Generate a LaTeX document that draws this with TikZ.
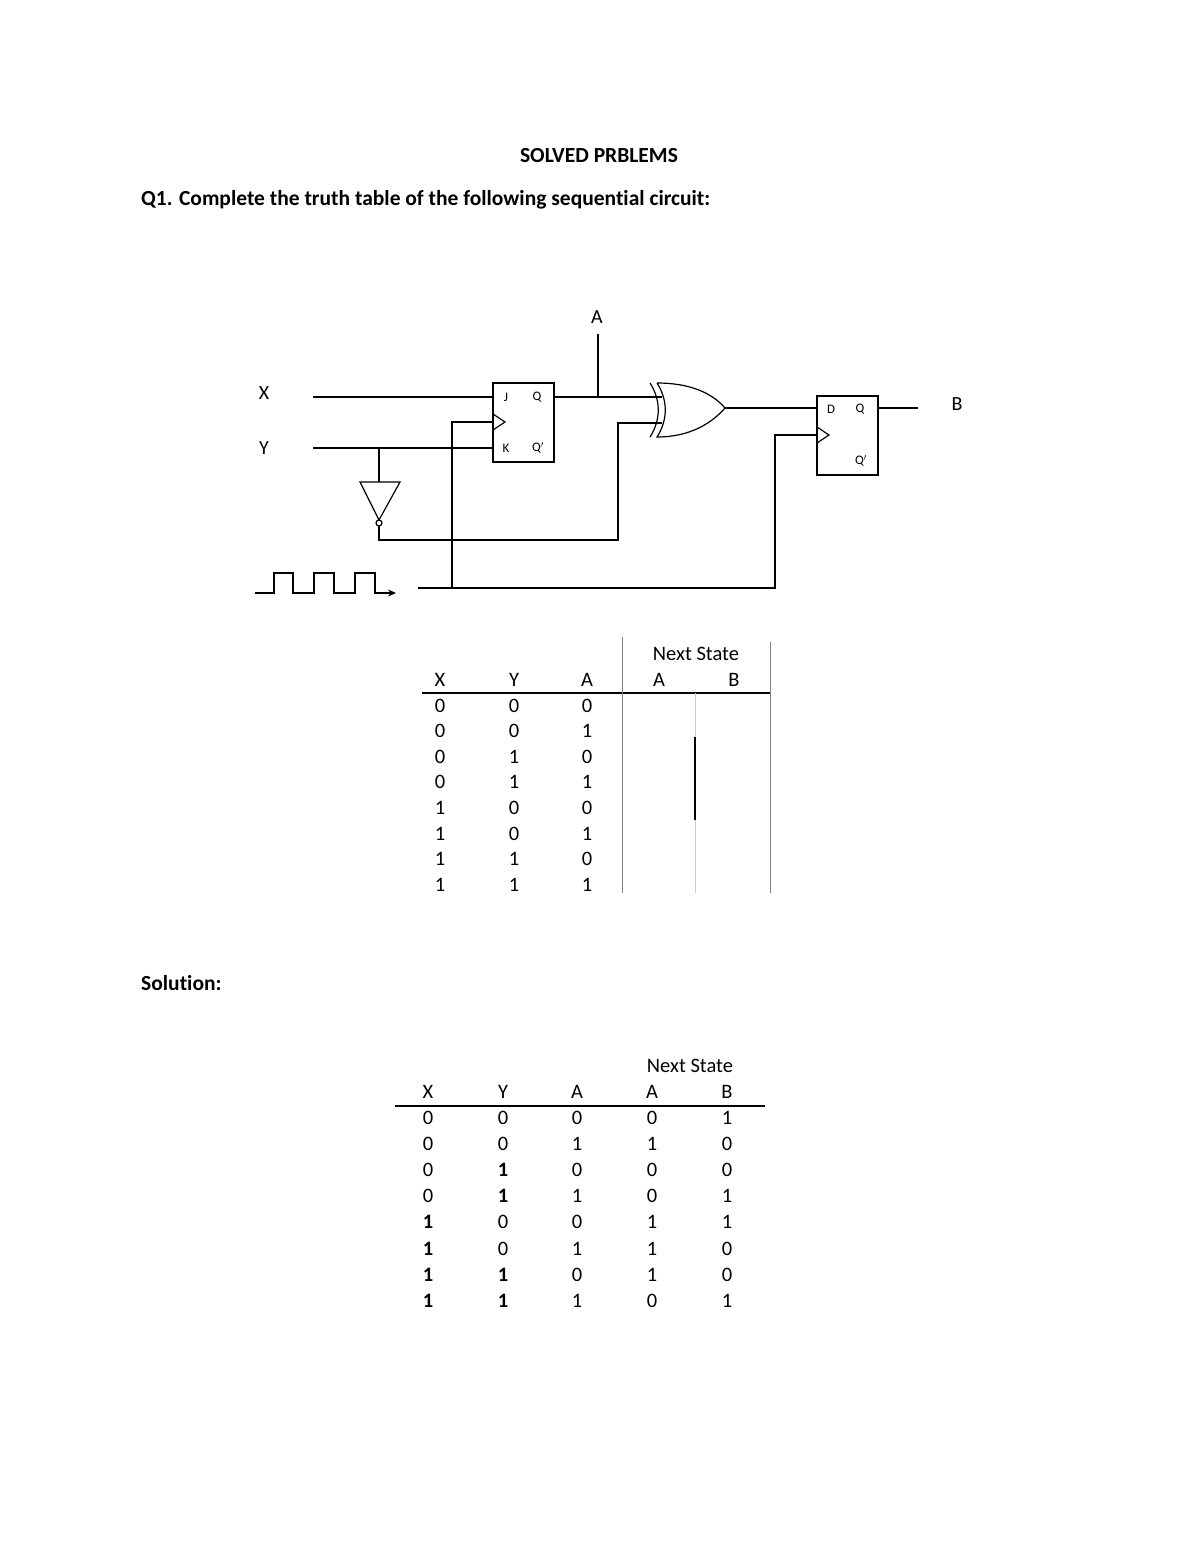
\documentclass[tikz,border=0pt]{standalone}
\usepackage{fontspec}
\setmainfont{Carlito}[Ligatures=NoCommon]
\usetikzlibrary{arrows.meta}
\begin{document}
\begin{tikzpicture}[x=1pt,y=-1pt,
  wire/.style={line width=1.6pt},
  thinw/.style={line width=1.2pt},
  lbl/.style={font=\fontsize{20}{22}\selectfont},
  pin/.style={font=\fontsize{13}{14}\selectfont, inner sep=0pt},
  cell/.style={font=\fontsize{20.5}{22}\selectfont, inner sep=0pt, text height=10pt, text depth=0pt},
  txt/.style={font=\bfseries\fontsize{21.5}{24}\selectfont, inner sep=0pt}]
\useasboundingbox[fill=white] (0,0) rectangle (1200,1553);
% texts
\node[txt] (title) at (599,156) {SOLVED PRBLEMS};
\node[txt,anchor=west] (q1) at (141,200) {Q1. Complete the truth table of the following sequential circuit:};
\node[txt,anchor=west] (sol) at (141,983) {Solution:};
% JK flip flop
\node[draw,wire,minimum width=61pt,minimum height=79pt,inner sep=0pt] (jk) at (523.5,422.5) {};
\node[pin] (jj) at (506,397) {J};
\node[pin] (jq) at (537,397) {Q};
\node[pin] (jk1) at (506,448) {K};
\node[pin] (jqn) at (538,448) {Q$'$};
\draw[thinw] (493,414) -- (505,422) -- (493,430);
% D flip flop
\node[draw,wire,minimum width=61pt,minimum height=79pt,inner sep=0pt] (dff) at (847.5,435.5) {};
\node[pin] (dd) at (831,409) {D};
\node[pin] (dq) at (860,409) {Q};
\node[pin] (dqn) at (861,461) {Q$'$};
\draw[thinw] (817,427) -- (829,435) -- (817,443);
% labels
\node[lbl] (lx) at (264,393) {X};
\node[lbl] (ly) at (264,448) {Y};
\node[lbl] (la) at (597,317) {A};
\node[lbl] (lb) at (957,404) {B};
% XOR gate
\coordinate (xo) at (725,408);
\draw[thinw] (657,383) .. controls (690,383) and (712,393) .. (xo) .. controls (712,423) and (690,437) .. (657,437) .. controls (668,420) and (668,400) .. (657,383);
\draw[thinw] (650,383) .. controls (661,400) and (661,420) .. (650,437);
% inputs
\coordinate (xs) at (313,397);
\coordinate (ys) at (313,448);
\coordinate (yb) at (379,448);
\draw[wire] (xs) -- (493,397);
\draw[wire] (ys) -- (493,448);
\draw[wire] (yb) -- (379,482);
% inverter
\draw[thinw] (360,482) -- (400,482) -- (379,520) -- cycle;
\draw[thinw] (379,523) circle (3pt);
\draw[wire] (379,526) -- (379,540) -- (618,540) -- (618,423) -- (662,423);
% Q to XOR, A tap
\draw[wire] (554,397) -- (662,397);
\coordinate (at) at (598,334);
\draw[thinw] (598,397) -- (at);
% XOR out
\draw[thinw] (xo) -- (817,408);
\draw[thinw] (878,408) -- (918,408);
% clock
\draw[wire] (418,588) -- (775,588) -- (775,435) -- (817,435);
\draw[wire] (452,588) -- (452,422) -- (493,422);
\draw[thinw,-{Stealth[length=8pt,width=7pt]}] (255,593) -- (274,593) -- (274,573) -- (293,573) -- (293,593) -- (314,593) -- (314,573) -- (334,573) -- (334,593) -- (355,593) -- (355,573) -- (375,573) -- (375,593) -- (396,593);
% table 1
\node[cell] (ns1) at (696,655) {Next State};
\foreach \t [count=\i] in {X,Y,A,A,B}{
  \pgfmathsetmacro{\xx}{{0,440,514,587,659,734}[\i]}
  \node[cell] (ha\i) at (\xx,681) {\t};}
\draw[thinw] (422,693) -- (770,693);
\draw[line width=0.8pt,gray] (622,637) -- (622,893);
\draw[line width=0.8pt,gray] (770,642) -- (770,893);
\draw[line width=0.4pt,gray!40] (695,693) -- (695,893);
\draw[line width=1.2pt] (695,737) -- (695,820);
\foreach \x/\y/\a [count=\r from 0] in {0/0/0,0/0/1,0/1/0,0/1/1,1/0/0,1/0/1,1/1/0,1/1/1}{
  \node[cell] (ta\r x) at (440,707+25.6*\r) {\x};
  \node[cell] (ta\r y) at (514,707+25.6*\r) {\y};
  \node[cell] (ta\r a) at (587,707+25.6*\r) {\a};}
% table 2
\node[cell] (ns2) at (690,1067) {Next State};
\foreach \t [count=\i] in {X,Y,A,A,B}{
  \pgfmathsetmacro{\xx}{{0,428,503,577,652,727}[\i]}
  \node[cell] (hb\i) at (\xx,1093) {\t};}
\draw[thinw] (395,1106) -- (765,1106);
\foreach \x/\y/\a/\na/\nb [count=\r from 0] in {0/0/0/0/1,0/0/1/1/0,0/1/0/0/0,0/1/1/0/1,1/0/0/1/1,1/0/1/1/0,1/1/0/1/0,1/1/1/0/1}{
  \node[cell] (tb\r x) at (428,1119+26.2*\r) {\ifnum\x=1 \bfseries\fi\x};
  \node[cell] (tb\r y) at (503,1119+26.2*\r) {\ifnum\y=1 \bfseries\fi\y};
  \node[cell] (tb\r a) at (577,1119+26.2*\r) {\a};
  \node[cell] (tb\r p) at (652,1119+26.2*\r) {\na};
  \node[cell] (tb\r q) at (727,1119+26.2*\r) {\nb};}
\end{tikzpicture}
\end{document}
